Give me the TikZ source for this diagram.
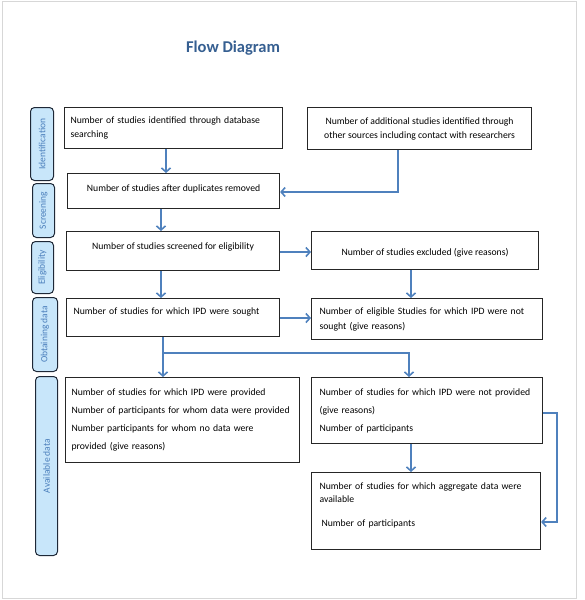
\documentclass[tikz,border=0pt]{standalone}
\usepackage{fontspec}
\setmainfont{Carlito}
\usetikzlibrary{arrows.meta}
\definecolor{titleblue}{RGB}{54,95,145}
\definecolor{arrblue}{RGB}{79,129,189}
\definecolor{tabfill}{RGB}{200,230,250}
\definecolor{tabtext}{RGB}{74,126,187}
\definecolor{tabline}{RGB}{30,40,55}
\definecolor{pageline}{RGB}{215,215,215}
\tikzset{
  box/.style={draw=black!85, line width=1.1pt, rectangle, inner sep=0pt,
    font=\fontsize{9.7}{14}\selectfont, anchor=north west},
  tab/.style={draw=tabline, line width=1pt, fill=tabfill, rounded corners=4pt,
    inner sep=0pt, anchor=north west},
  tabtxt/.style={text=tabtext, rotate=90, font=\fontsize{9.5}{10}\selectfont},
  arr/.style={draw=arrblue, line width=1.8pt, -{Straight Barb[length=4pt,width=9pt,line width=1.6pt]}},
}
\begin{document}
\begin{tikzpicture}[x=1pt,y=-1pt]
\useasboundingbox (0,0) rectangle (585,600);
\draw[pageline, line width=1pt] (2,1) -- (576,1) -- (576,598) -- (2,598) -- cycle;
\node[text=titleblue, font=\fontsize{16.5}{18}\selectfont\bfseries] (title) at (233,48) {Flow Diagram};

% tabs
\node[tab, minimum width=23pt, minimum height=73pt] (t1) at (30,107) {};
\node[tabtxt] (t1t) at (t1.center) {Identification};
\node[tab, minimum width=22pt, minimum height=54pt] (t2) at (32,183) {};
\node[tabtxt] (t2t) at (t2.center) {Screening};
\node[tab, minimum width=22pt, minimum height=52pt] (t3) at (31,241) {};
\node[tabtxt] (t3t) at (t3.center) {Eligibility};
\node[tab, minimum width=25pt, minimum height=74pt] (t4) at (32,297) {};
\node[tabtxt] (t4t) at (t4.center) {Obtaining data};
\node[tab, minimum width=22pt, minimum height=179pt] (t5) at (35,376) {};
\node[tabtxt] (t5t) at (t5.center) {Available data};

% boxes
\node[box, minimum width=218pt, minimum height=41pt, align=left, text width=206pt, inner xsep=6pt] (b1) at (64,107)
  {Number of studies identified through database\\searching};
\node[box, minimum width=224pt, minimum height=42pt, align=center] (b2) at (307,107)
  {Number of additional studies identified through\\other sources including contact with researchers};
\node[box, minimum width=212pt, minimum height=35pt, align=center, text depth=6pt] (b3) at (67,173)
  {Number of studies after duplicates removed};
\node[box, minimum width=213pt, minimum height=39pt, align=center, text depth=10pt] (b4) at (66,231)
  {Number of studies screened for eligibility};
\node[box, minimum width=227pt, minimum height=38pt, align=center, text height=12pt] (b5) at (311,231)
  {Number of studies excluded (give reasons)};
\node[box, minimum width=213pt, minimum height=38pt, align=left, text width=199pt, inner xsep=7pt, text depth=12pt] (b6) at (66,298)
  {Number of studies for which IPD were sought};
\node[box, minimum width=231pt, minimum height=41pt, align=left, text width=215pt, inner xsep=8pt, font=\fontsize{9.7}{15}\selectfont] (b7) at (311,298)
  {Number of eligible Studies for which IPD were not\\sought (give reasons)};
\node[box, minimum width=234pt, minimum height=85pt, align=left, text width=222pt, inner xsep=6pt, font=\fontsize{9.7}{18}\selectfont] (b8) at (65,377)
  {Number of studies for which IPD were provided\\Number of participants for whom data were provided\\Number participants for whom no data were\\provided (give reasons)};
\node[box, minimum width=231pt, minimum height=66pt, align=left, text width=215pt, inner xsep=8pt, font=\fontsize{9.7}{18}\selectfont] (b9) at (311,377)
  {Number of studies for which IPD were not provided\\(give reasons)\\Number of participants};
\node[box, minimum width=229pt, minimum height=77pt, align=left, text width=213pt, inner xsep=8pt, font=\fontsize{9.7}{13}\selectfont] (b10) at (311,472)
  {Number of studies for which aggregate data were\\available\\[11pt]\hspace{2pt}Number of participants\\[-1pt]\mbox{}};

% connectors
\draw[arr] (b1.south -| 166,0) -- (b3.north -| 166,0);
\coordinate (c1) at (398,192);
\draw[arr] (b2.south -| c1) -- (c1) -- (b3.east |- c1);
\draw[arr] (b3.south -| 161,0) -- (b4.north -| 161,0);
\coordinate (c2) at (0,252);
\draw[arr] (b4.east |- c2) -- (b5.west |- c2);
\draw[arr] (b4.south -| 161,0) -- (b6.north -| 161,0);
\draw[arr] (b5.south -| 411,0) -- (b7.north -| 411,0);
\coordinate (c3) at (0,318);
\draw[arr] (b6.east |- c3) -- (b7.west |- c3);
\coordinate (c4) at (163,353);
\coordinate (c5) at (409,353);
\draw[arr] (b6.south -| c4) -- (b8.north -| c4);
\draw[arr] (c4) -- (c5) -- (b9.north -| c5);
\draw[arr] (b9.south -| 411,0) -- (b10.north -| 411,0);
\coordinate (c6) at (557,413);
\coordinate (c7) at (557,522);
\draw[arr] (b9.east |- c6) -- (c6) -- (c7) -- (b10.east |- c7);
\end{tikzpicture}
\end{document}
